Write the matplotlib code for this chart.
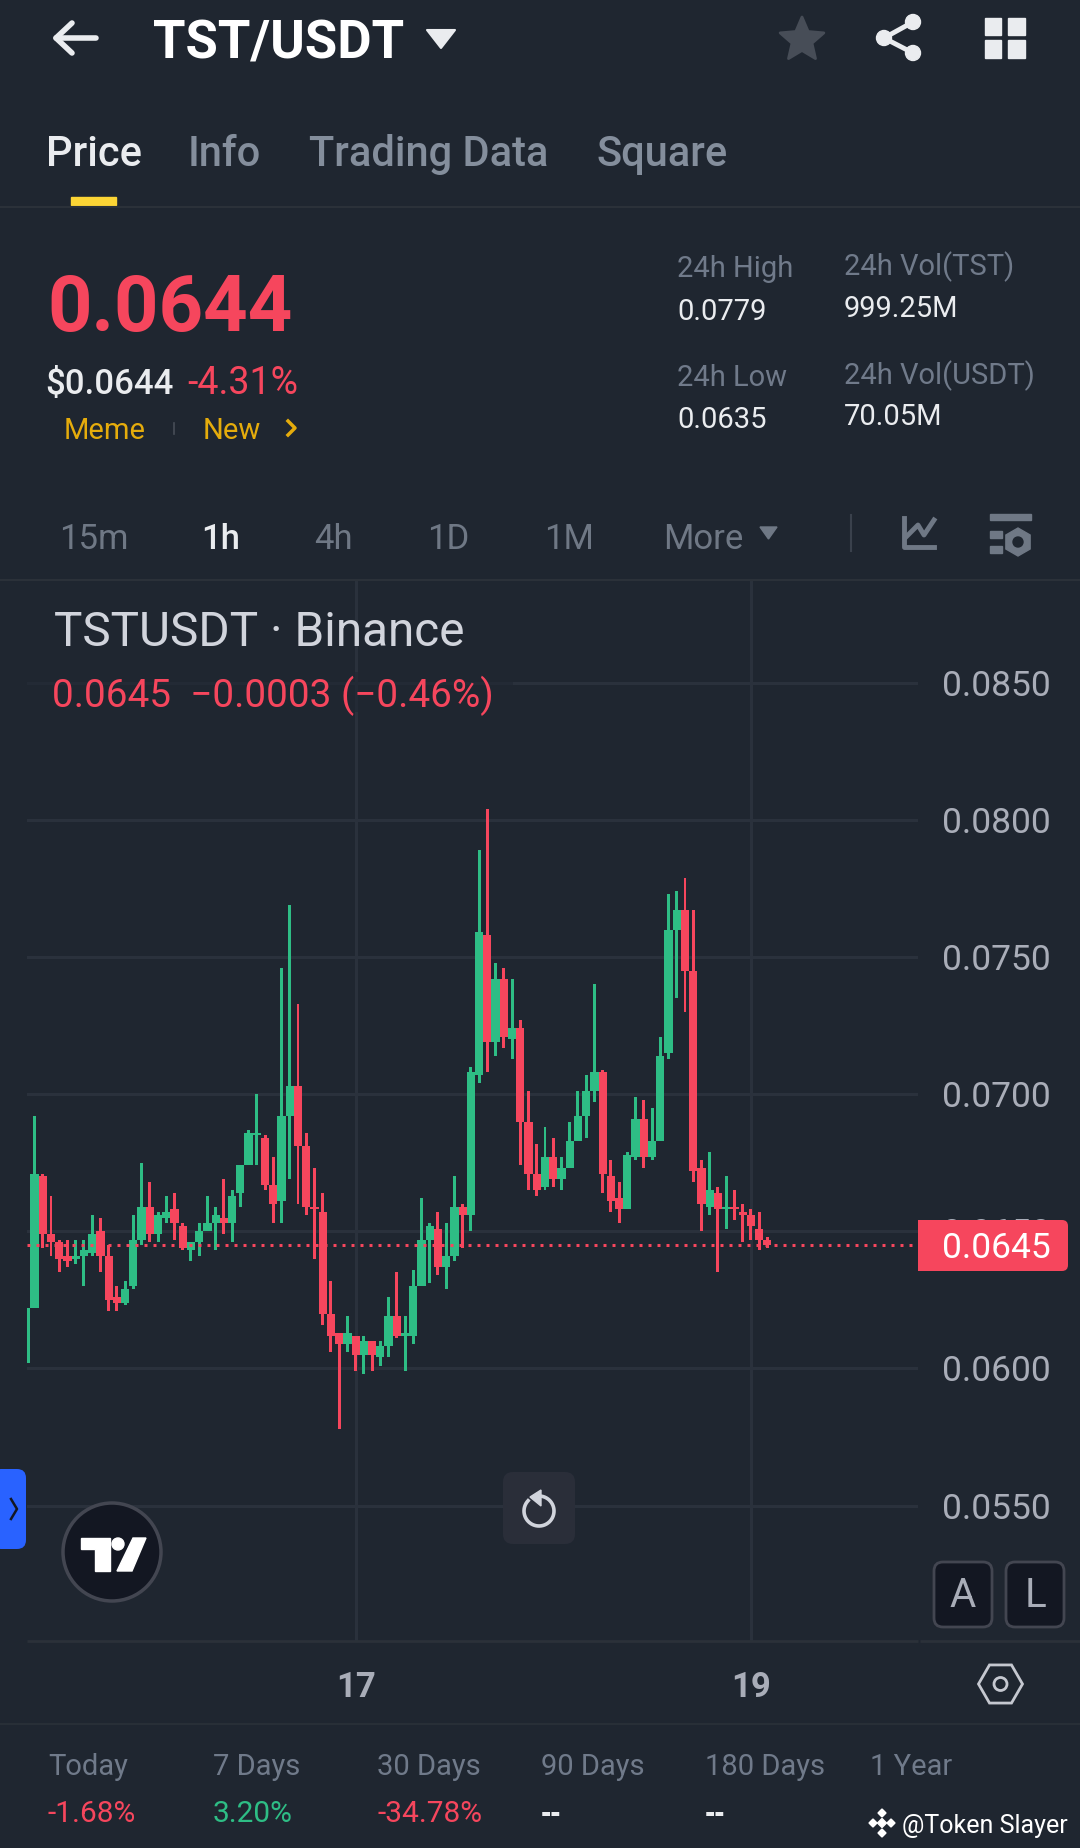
#!/usr/bin/env python3
# TST/USDT 1h candles, mobile trading screen

import matplotlib
matplotlib.use('Agg')
import matplotlib.pyplot as plt
from matplotlib.patches import Rectangle, FancyBboxPatch, Circle, Polygon, RegularPolygon
import numpy as np

# prices in units of 0.0001
opens = [602, 622, 670, 649, 646, 641, 640, 641, 642, 650, 641, 626, 624, 630, 647, 659, 649, 655, 658, 652,
         643, 646, 650, 653, 655, 653, 664, 674, 685, 684, 667, 661, 692, 703, 681, 659, 657, 620, 613, 609,
         612, 605, 610, 604, 608, 619, 612, 612, 630, 647, 651, 637, 641, 659, 656, 707, 758, 719, 742, 720,
         724, 690, 671, 666, 677, 669, 673, 683, 692, 701, 708, 670, 662, 658, 677, 691, 677, 683, 715, 760,
         767, 745, 673, 659, 664, 658, 659, 657, 656, 651, 647]
highs = [622, 692, 671, 663, 647, 647, 647, 647, 656, 655, 645, 630, 632, 656, 675, 668, 657, 663, 664, 653,
         646, 653, 663, 659, 669, 665, 674, 687, 700, 685, 677, 746, 769, 733, 686, 673, 664, 632, 613, 619,
         612, 612, 610, 610, 626, 635, 619, 636, 662, 653, 657, 653, 670, 660, 710, 789, 804, 748, 746, 742,
         727, 701, 682, 688, 684, 677, 690, 701, 707, 740, 709, 676, 668, 679, 699, 698, 695, 721, 773, 774,
         779, 767, 676, 679, 666, 670, 665, 660, 658, 657, 648]
lows = [602, 622, 644, 641, 635, 637, 638, 630, 641, 635, 621, 621, 623, 629, 645, 646, 646, 653, 647, 643,
        639, 641, 650, 643, 649, 646, 659, 674, 674, 665, 653, 653, 669, 660, 656, 640, 616, 606, 578, 606,
        599, 598, 599, 601, 604, 611, 599, 609, 630, 631, 634, 629, 639, 644, 650, 704, 708, 714, 717, 713,
        674, 665, 663, 665, 666, 665, 673, 683, 684, 697, 664, 657, 653, 658, 676, 673, 676, 683, 713, 735,
        730, 668, 650, 656, 635, 651, 654, 646, 647, 643, 644]
closes = [622, 671, 649, 646, 640, 639, 641, 643, 649, 641, 625, 624, 629, 647, 659, 649, 656, 657, 653, 644,
          646, 650, 653, 656, 653, 663, 674, 686, 686, 667, 660, 692, 703, 681, 659, 658, 620, 612, 609, 613,
          605, 610, 605, 608, 619, 612, 613, 630, 647, 652, 637, 641, 659, 656, 708, 759, 719, 742, 721, 724,
          690, 671, 665, 677, 669, 673, 683, 692, 701, 708, 671, 661, 658, 678, 691, 677, 683, 714, 760, 767,
          745, 672, 660, 665, 658, 659, 658, 656, 652, 647, 645]

price_ticks = [0.0550, 0.0600, 0.0650, 0.0700, 0.0750, 0.0800, 0.0850]
day_positions = [40, 88]
day_labels = ['17', '19']
last_price = 0.0645

period_names = ['Today', '7 Days', '30 Days', '90 Days', '180 Days', '1 Year']
period_changes = ['-1.68%', '3.20%', '-34.78%', '--', '--', '']
tab_names = ['Price', 'Info', 'Trading Data', 'Square']
timeframes = ['15m', '1h', '4h', '1D', '1M', 'More']

BG = '#1f2630'
GRID = '#2a313c'
LINE = '#2b3139'
RED = '#f6465d'
GREEN = '#2ebd85'
WHITE = '#eaecef'
GREY = '#848e9c'
DIM = '#707a8a'
AXIS = '#a9adb8'
DARK = '#131722'
YELLOW = '#e5ac0c'

W, H = 1080, 1848
plt.rcParams['font.family'] = ['Roboto', 'DejaVu Sans']

fig = plt.figure(figsize=(W / 100, H / 100), dpi=100, facecolor=BG)

# price pane, placed by pixels
left, right, top, bottom = 27, 918, 580, 1641
ax = fig.add_axes([left / W, 1 - bottom / H, (right - left) / W, (bottom - top) / H], zorder=1)
ax.patch.set_visible(False)
for s in ax.spines.values():
    s.set_visible(False)

x = np.arange(len(opens))
o, h, l, c = [np.array(a) / 1e4 for a in (opens, highs, lows, closes)]
colors = [GREEN if cc >= oo else RED for oo, cc in zip(o, c)]

ax.bar(x, h - l, bottom=l, width=0.36, color=colors, antialiased=False, zorder=3)
ax.bar(x, np.abs(c - o), bottom=np.minimum(o, c), width=1.0, color=colors, antialiased=False, zorder=4)

ax.set_xlim(0.085, 108.3)
ax.set_ylim(0.05006, 0.08875)
ax.yaxis.tick_right()
ax.set_yticks(price_ticks, ['%.4f' % v for v in price_ticks])
ax.set_xticks(day_positions, day_labels)
ax.tick_params(axis='y', length=0, pad=17, labelsize=25.5, labelcolor=AXIS)
ax.tick_params(axis='x', length=0, pad=21.5, labelsize=25, labelcolor=AXIS)
for t in ax.get_xticklabels():
    t.set_fontweight('bold')
ax.grid(True, color=GRID, linewidth=2.16, zorder=1)
ax.set_axisbelow(True)
ax.plot([0.085, 107.6], [last_price, last_price], color=RED, linewidth=2.16,
        linestyle=(0, (1, 2)), dash_capstyle='butt', zorder=5)

# everything else is drawn in screen pixels
ui = fig.add_axes([0, 0, 1, 1], zorder=2)
ui.set_xlim(0, W)
ui.set_ylim(H, 0)
ui.axis('off')


def txt(px, py, s, size, color, weight='normal', ha='left', family=None):
    ui.text(px, py, s, fontsize=size, color=color, fontweight=weight, ha=ha, va='baseline', family=family)


def rule(x0, x1, y, color=LINE, lw=1.5):
    ui.plot([x0, x1], [y, y], color=color, linewidth=lw, solid_capstyle='butt')


def box(x0, y0, x1, y1, face, edge='none', lw=0, r=8):
    ui.add_patch(FancyBboxPatch((x0 + r, y0 + r), x1 - x0 - 2 * r, y1 - y0 - 2 * r,
                                boxstyle='round,pad=%d,rounding_size=%d' % (r, r),
                                facecolor=face, edgecolor=edge, linewidth=lw))


# header
ui.plot([56, 96], [38, 38], color=WHITE, linewidth=4, solid_capstyle='round')
ui.plot([72, 56, 72], [23, 38, 53], color=WHITE, linewidth=4, solid_joinstyle='round', solid_capstyle='round')
txt(153, 58, 'TST/USDT', 38, '#ffffff', 'bold')
ui.add_patch(Polygon([(427, 30), (455, 30), (441, 48)], closed=True, facecolor=WHITE, edgecolor=WHITE,
                     linewidth=1.5, joinstyle='round'))

ang = np.arange(10) * np.pi / 5 - np.pi / 2
rad = np.where(np.arange(10) % 2 == 0, 23, 10.5)
ui.add_patch(Polygon(np.c_[802 + rad * np.cos(ang), 40 + rad * np.sin(ang)], closed=True,
                     facecolor='#474d57', edgecolor='#474d57', linewidth=2, joinstyle='round'))

ui.plot([913, 884, 913], [22, 38, 53], color=WHITE, linewidth=3.5)
for cx, cy, r in [(913, 22, 7.5), (884, 38, 7.5), (913, 53, 7.5)]:
    ui.add_patch(Circle((cx, cy), r, color=WHITE))
for x0, y0, x1, y1 in [(985, 18, 1001, 35), (1008, 18, 1025, 35), (985, 40, 1001, 58), (1008, 40, 1025, 58)]:
    ui.add_patch(Rectangle((x0, y0), x1 - x0, y1 - y0, color=WHITE))

# tabs
tab_x = [46, 188, 309, 597]
for i, name in enumerate(tab_names):
    txt(tab_x[i], 166, name, 30, WHITE if i == 0 else GREY, 'medium')
ui.add_patch(Rectangle((71, 197), 45, 8, color='#fcd535'))
rule(0, W, 207)

# price block
txt(47, 331, '0.0644', 56, RED, 'bold')
txt(45, 394, '$0.0644', 25, WHITE, 'medium')
txt(187, 394, '-4.31%', 27, RED)
txt(64, 439, 'Meme', 21, YELLOW)
ui.plot([173.5, 173.5], [423, 434], color='#474d57', linewidth=1.2)
txt(203, 439, 'New', 21, YELLOW)
ui.plot([288, 295, 288], [421, 428, 435], color=YELLOW, linewidth=2.5)

txt(677, 277, '24h High', 21, DIM)
txt(677, 319.5, '0.0779', 21, WHITE)
txt(677, 386, '24h Low', 21, DIM)
txt(677, 427.5, '0.0635', 21, WHITE)
txt(844, 275.5, '24h Vol(TST)', 21, DIM)
txt(844, 317, '999.25M', 21, WHITE)
txt(844, 384, '24h Vol(USDT)', 21, DIM)
txt(844, 425, '70.05M', 21, WHITE)

# timeframe row
tf_x = [59, 201, 314, 427, 544, 663]
for i, name in enumerate(timeframes):
    txt(tf_x[i], 549, name, 25, WHITE if name == '1h' else '#6f7885', 'medium' if name == '1h' else 'normal')
ui.add_patch(Polygon([(760, 527), (777, 527), (768.5, 539)], closed=True, color='#6f7885'))
ui.plot([851, 851], [515, 551], color='#3a414c', linewidth=1.5)
ui.plot([904, 904, 934], [518, 547, 547], color='#6f7885', linewidth=3.5)
ui.plot([906, 918, 924, 934], [537, 525, 535, 520], color='#6f7885', linewidth=3.5)
ui.add_patch(Rectangle((990, 514), 41, 6, color='#6f7885'))
ui.add_patch(Rectangle((990, 531), 12, 7, color='#6f7885'))
ui.add_patch(Rectangle((990, 546), 12, 7, color='#6f7885'))
ui.add_patch(RegularPolygon((1018, 542), 6, radius=14, color='#6f7885'))
ui.add_patch(Circle((1018, 542), 5, color=BG))
rule(0, W, 580)

# legend on the chart
ui.add_patch(Rectangle((27, 672), 486, 40, color=BG, alpha=0.55, linewidth=0))
txt(54, 646, 'TSTUSDT · Binance', 34.4, '#d1d4dc')
txt(52, 707, '0.0645  \u22120.0003 (\u22120.46%)', 27.9, RED)

# last price tag
ui.add_patch(Rectangle((918, 1220), 20, 51, facecolor=RED, linewidth=0))
box(918, 1220, 1068, 1271, RED, r=6)
txt(942, 1258, '0.0645', 25.5, '#ffffff')

# side handle, logo and buttons
box(-8, 1469, 26, 1549, '#2962ff', r=9)
ui.plot([11, 17, 11], [1499, 1509, 1519], color=DARK, linewidth=1.8)

ui.add_patch(Circle((112, 1552), 49, facecolor=DARK, edgecolor='#434651', linewidth=2.5))
ui.add_patch(Polygon([(81, 1538), (110, 1538), (110, 1571), (95, 1571), (95, 1549), (81, 1549)], closed=True, color='w'))
ui.add_patch(Circle((118, 1544), 6, color='w'))
ui.add_patch(Polygon([(133, 1538), (146, 1538), (132, 1571), (117, 1571)], closed=True, color='w'))

box(503, 1472, 575, 1544, '#2a2e39', r=10)
t = np.linspace(-1.9, 3.9, 50)
ui.plot(539 + 15 * np.cos(t), 1511 + 15 * np.sin(t), color='#d1d4dc', linewidth=2.6)
ui.add_patch(Polygon([(541, 1490), (541, 1506), (530, 1497)], closed=True, color='#d1d4dc'))

box(934, 1562, 992, 1627, DARK, '#434651', 2, r=9)
box(1006, 1562, 1064, 1627, DARK, '#434651', 2, r=9)
txt(963, 1607, 'A', 29, AXIS, ha='center')
txt(1035, 1607, 'L', 29, AXIS, ha='center')

# time axis row
rule(27, 918, 1641, lw=2)
rule(920, W, 1641, lw=2)
ui.add_patch(RegularPolygon((1000.5, 1684), 6, radius=22, orientation=np.pi / 2, facecolor='none',
                            edgecolor='#c5c8d0', linewidth=2))
ui.add_patch(Circle((1000.5, 1684), 6.5, facecolor='none', edgecolor='#c5c8d0', linewidth=2))
rule(0, W, 1724, lw=1.2)

# period table
per_x = [48, 213, 377, 541, 705, 870]
for i, name in enumerate(period_names):
    txt(per_x[i], 1775, name, 21, DIM)
    v = period_changes[i]
    if v == '--':
        txt(per_x[i], 1822, v, 22, WHITE, 'bold', family='Liberation Sans')
    else:
        txt(per_x[i], 1822, v, 21.5, RED if v.startswith('-') else GREEN)

# watermark
for cx, cy, r in [(882, 1813, 4), (873, 1823, 4), (882, 1823, 4.5), (891, 1823, 4), (882, 1833, 4)]:
    ui.add_patch(RegularPolygon((cx, cy), 4, radius=r, color='w'))
txt(902, 1833, '@Token Slayer', 18, '#ffffff')

fig.savefig('out.png', dpi=100, facecolor=BG)
